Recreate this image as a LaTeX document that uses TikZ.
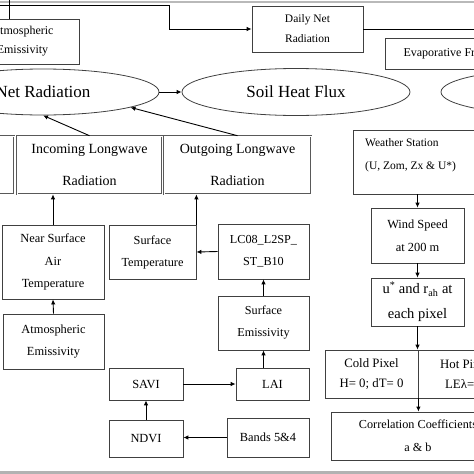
\documentclass[tikz,border=0pt]{standalone}
\usepackage{fontspec}
\setmainfont{Liberation Serif}
\usetikzlibrary{positioning, arrows.meta, shapes.geometric}

\newcommand{\fs}[2]{\fontsize{#1}{#2}\selectfont}

\begin{document}
\begin{tikzpicture}[x=1pt, y=-1pt,
  >={Latex[length=5pt, width=4.5pt]},
  box/.style={draw=black!75, line width=0.8pt, inner sep=0pt,
    align=center, font=\fs{12.4}{22.5}},
  wide/.style={box, draw=gray!70!black, double, double distance=1pt,
    line width=0.6pt, font=\fs{14}{32}},
  flux/.style={ellipse, draw=black!75, line width=0.8pt, inner sep=0pt,
    minimum width=232pt, minimum height=46pt, font=\fs{17}{20}},
  arr/.style={->, line width=0.9pt},
  link/.style={line width=0.9pt}
]
\useasboundingbox (0,0) rectangle (474,474);
\clip (0,0) rectangle (474,474);

% frame of the crop
\draw[gray!55, line width=2pt] (0,1.5) -- (474,1.5);
\draw[gray!60, line width=3pt] (0,472) -- (474,472);

% top row
\node[box, minimum width=113pt, minimum height=45pt, font=\fs{12}{19}]
  (topae) at (22.5,41.5) {Atmospheric\\Emissivity};
\node[box, minimum width=111pt, minimum height=46pt, font=\fs{11.5}{20}]
  (dnet) at (307.5,29) {Daily Net\\Radiation};
\node[box, minimum width=138pt, minimum height=31pt, font=\fs{12}{14}]
  (evap) at (454,53.5) {Evaporative Fraction};

\coordinate (feed) at (0,5);
\coordinate (bend1) at (169,5);
\coordinate (bend2) at (169,29);
\coordinate (tap) at (9,0);
\coordinate (dnout) at (474,29);
\draw[arr] (feed) -- (bend1) -- (bend2) -- (dnet.west);
\draw[link] (tap) -- (topae.north -| tap);
\draw[link] (dnet.east) -- (dnout);

% fluxes
\node[flux] (netrad) at (43,92) {Net Radiation};
\node[flux, minimum width=228pt, minimum height=47pt] (soil) at (296,92) {Soil Heat Flux};
\node[flux] (nextflux) at (557,92) {};
\draw[arr] (netrad.east) -- (soil.west);

% radiation terms
\node[wide, minimum width=148pt, minimum height=58pt] (swin) at (-60,165) {};
\node[wide, minimum width=145pt, minimum height=58pt] (lwin) at (89.5,165)
  {Incoming Longwave\\Radiation};
\node[wide, minimum width=147pt, minimum height=58pt] (lwout) at (237.5,165)
  {Outgoing Longwave\\Radiation};
\draw[arr] (lwin.north) -- (netrad.south);
\draw[arr] (lwout.north) -- (netrad.-10);

% left column
\node[box, minimum width=102pt, minimum height=74pt] (nsat) at (53,262)
  {Near Surface\\Air\\Temperature};
\node[box, minimum width=101pt, minimum height=55pt, font=\fs{12.4}{22}] (atmem) at (53.5,341.5)
  {Atmospheric\\Emissivity};
\draw[arr] (nsat.north) -- (nsat.north |- lwin.south);
\draw[arr] (atmem.north) -- (nsat.south);

% surface temperature chain
\node[box, minimum width=87pt, minimum height=54pt, font=\fs{12.3}{22}] (lst) at (152.5,252)
  {Surface\\Temperature};
\node[box, minimum width=91pt, minimum height=55pt, font=\fs{12.2}{22}] (b10) at (263.5,251.5)
  {LC08\_L2SP\_\\ST\_B10};
\node[box, minimum width=91pt, minimum height=54pt, font=\fs{12.2}{22}] (semis) at (263.5,323)
  {Surface\\Emissivity};
\node[box, minimum width=73pt, minimum height=32pt] (lai) at (272.5,384) {LAI};
\node[box, minimum width=82pt, minimum height=39pt] (bands) at (268,437.5) {Bands 5\&4};
\node[box, minimum width=74pt, minimum height=32pt] (savi) at (146,384) {SAVI};
\node[box, minimum width=74pt, minimum height=37pt] (ndvi) at (146,438.5) {NDVI};

\draw[arr] (lst.north east) -- (lst.north east |- lwout.south);
\draw[arr] (b10.west) -- (lst.east);
\draw[arr] (semis.north) -- (b10.south);
\draw[arr] (semis.south |- lai.north) -- (semis.south);
\draw[arr] (savi.east) -- (lai.west);
\draw[arr] (ndvi.north) -- (savi.south);
\draw[arr] (bands.west) -- (bands.west -| ndvi.east);

% weather station chain
\node[box, minimum width=167pt, minimum height=64pt] (wstn) at (436.5,162) {};
\node[anchor=north west, inner sep=0pt, align=left, font=\fs{11.5}{23}]
  (wstntext) at (365,138) {Weather Station\\(U, Zom, Zx \& U*)};
\node[box, minimum width=93pt, minimum height=55pt, font=\fs{12.4}{23}] (wind) at (417.5,235.5)
  {Wind Speed\\at 200 m};
\node[box, minimum width=93pt, minimum height=48pt, font=\fs{14.5}{25}] (ustar) at (417.5,302)
  {u\textsuperscript{*} and r\textsubscript{ah} at\\each pixel};
\node[box, minimum width=93pt, minimum height=48pt, font=\fs{12.8}{20}] (cold) at (371.5,374)
  {Cold Pixel\\H= 0; dT= 0};
\node[box, minimum width=93pt, minimum height=48pt, font=\fs{12.8}{20}] (hot) at (464.5,374)
  {Hot Pixel\\LEλ= 0};
\node[box, minimum width=174pt, minimum height=48pt, font=\fs{12.2}{23}] (corr) at (418,436)
  {Correlation Coefficients\\a \& b};

\draw[arr] (wind.north |- wstn.south) -- (wind.north);
\draw[arr] (wind.south) -- (ustar.north);
\draw[arr] (ustar.south) -- (ustar.south |- cold.north);
\draw[arr] (cold.south east) -- (cold.south east |- corr.north);

\end{tikzpicture}
\end{document}
